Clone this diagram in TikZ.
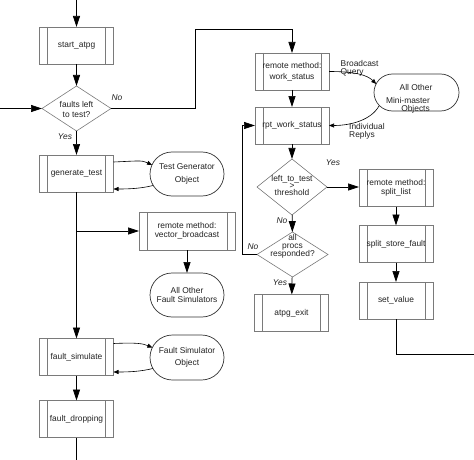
\documentclass[tikz,border=0pt]{standalone}
\usepackage{fontspec}
\setmainfont{Liberation Sans}
\usetikzlibrary{arrows.meta,shapes.geometric,shapes.misc}
\definecolor{boxc}{HTML}{7A7A7A}
\definecolor{txtc}{HTML}{222222}
\begin{document}
\begin{tikzpicture}[x=1pt,y=-1pt,
 font=\fontsize{8.4}{9.5}\selectfont,
 proc/.style={draw=boxc, line width=0.6pt, minimum width=74pt, minimum height=37pt,
   inner sep=0pt, outer sep=0pt, align=center, text=txtc,
   path picture={\draw[boxc,line width=0.6pt]
     ([xshift=8pt]path picture bounding box.north west) -- ([xshift=8pt]path picture bounding box.south west)
     ([xshift=-8pt]path picture bounding box.north east) -- ([xshift=-8pt]path picture bounding box.south east);}},
 obj/.style={draw=black!80, line width=0.7pt, rounded rectangle, minimum width=74pt,
   minimum height=44pt, inner sep=0pt, outer sep=0pt, align=center, text=txtc},
 dec/.style={draw=boxc, line width=0.6pt, diamond, minimum width=70pt, minimum height=45pt,
   inner sep=0pt, outer sep=0pt},
 txt/.style={align=center, inner sep=0pt, text=txtc},
 lbl/.style={font=\fontsize{8.4}{9.5}\selectfont\itshape, inner sep=0pt, text=txtc},
 flow/.style={draw=black, line width=0.7pt, -{Triangle[length=11pt,width=7pt]}},
 plain/.style={draw=black, line width=0.7pt},
 cflow/.style={draw=black, line width=0.6pt, -{Triangle[length=5pt,width=4pt]}}
]
\useasboundingbox[fill=white] (0,0) rectangle (474,460);

% ---------- left column ----------
\coordinate (top) at (76.5,0);
\coordinate (leftin) at (0,108.5);
\coordinate (bot) at (76.5,460);
\node[proc] (start) at (76.5,45.5) {start\_atpg};
\node[dec, minimum width=69pt] (d1) at (76.5,108.5) {};
\node[txt] (d1t) at (76.5,109) {faults left\\[0.5pt]to test?};
\node[proc] (gen) at (76.5,173.5) {generate\_test};
\node[obj] (tgo) at (187,174) {Test Generator\\[4pt]Object};
\node[proc, minimum width=96pt, minimum height=38pt] (vb) at (187,231) {remote method:\\[-1pt]vector\_broadcast};
\node[obj] (aofs) at (187,295) {All Other\\[-0.5pt]Fault Simulators};
\node[proc] (fsim) at (76.5,357) {fault\_simulate};
\node[obj, minimum height=45pt] (fso) at (187,357.5) {Fault Simulator\\[2.5pt]Object};
\node[proc] (fdrop) at (76.5,419) {fault\_dropping};

% ---------- right column ----------
\node[proc] (ws) at (292,71.5) {remote method:\\[1.5pt]work\_status};
\node[proc] (rpt) at (292,125.5) {rpt\_work\_status};
\node[obj, minimum width=85pt, minimum height=37pt] (mm) at (416.5,92.5) {};
\node[txt] (mm1) at (416,87.5) {All Other};
\node[txt] (mm2) at (408,100.5) {Mini-master};
\node[txt] (mm3) at (415.5,109.5) {Objects};
\node[dec, minimum width=70pt, minimum height=56pt] (d2) at (292,187) {};
\node[txt] (d2t) at (292,185.5) {left\_to\_test\\[-2.5pt]>\\[-2.5pt]threshold};
\node[dec, minimum width=71pt, minimum height=45pt] (d3) at (292.5,254.5) {};
\node[txt] (d3t) at (292.5,246.5) {all\\[-1.5pt]procs\\[-1.5pt]responded?};
\node[proc] (exit) at (291.5,313) {atpg\_exit};
\node[proc] (split) at (396,188) {remote method:\\split\_list};
\node[proc] (ssf) at (396,244) {split\_store\_fault};
\node[proc] (setv) at (396,300.5) {set\_value};
\coordinate (rightout) at (474,354);

% ---------- labels ----------
\node[lbl] (lno1) at (117,98) {No};
\node[lbl] (lyes1) at (65,137) {Yes};
\node[lbl] (lyes2) at (333,163) {Yes};
\node[lbl] (lno2) at (282,221) {No};
\node[lbl] (lno3) at (253,247) {No};
\node[lbl] (lyes3) at (280,283) {Yes};
\node[txt, align=left, anchor=west] (bq) at (340.5,68.5) {Broadcast\\[-1pt]Query};
\node[txt, align=left, anchor=west] (ir) at (349,131.5) {Individual\\[-1pt]Replys};

% ---------- connectors ----------
\draw[flow] (top) -- (start);
\draw[flow] (start) -- (d1);
\draw[flow] (leftin) -- (d1.west);
\draw[flow] (d1.east) -- (195,108.5) -- (195,29) -| (ws.north);
\draw[flow] (d1) -- (gen);
\draw[cflow] ([shift={(0,-11.5)}]gen.east) .. controls +(24,-1) and +(-10,-5) .. ([shift={(2,-9)}]tgo.west);
\draw[cflow] ([shift={(3,11.5)}]tgo.west) .. controls +(-12,3) and +(16,0) .. ([shift={(0,15.5)}]gen.east);
\draw[flow] (gen) -- (fsim);
\draw[flow] (gen.south |- vb.west) -- (vb.west);
\draw[flow] (vb) -- (aofs);
\draw[cflow] ([shift={(0,-13.5)}]fsim.east) .. controls +(24,-1) and +(-10,-4) .. ([shift={(2.4,-10)}]fso.west);
\draw[cflow] ([shift={(2.8,11)}]fso.west) .. controls +(-12,3) and +(16,0) .. ([shift={(0,15)}]fsim.east);
\draw[flow] (fsim) -- (fdrop);
\draw[plain] (fdrop) -- (bot);

\draw[flow] (ws) -- (rpt);
\draw[cflow] (ws.east) .. controls +(26,0) and +(-9,-9) .. ([shift={(2.2,-8.5)}]mm.west);
\draw[cflow] ([shift={(5,13.5)}]mm.west) .. controls +(-8,14) and +(22,0) .. (rpt.east);
\draw[flow] (rpt) -- (d2);
\draw[flow] (d2.east) -- (d2.east -| split.west);
\draw[flow] (d2) -- (d3);
\draw[flow] (d3.west) -- (242,254.5) |- (rpt.west);
\draw[flow] (d3) -- (exit);
\draw[flow] (split) -- (ssf);
\draw[flow] (ssf) -- (setv);
\draw[plain] (setv.south) |- (rightout);
\end{tikzpicture}
\end{document}
